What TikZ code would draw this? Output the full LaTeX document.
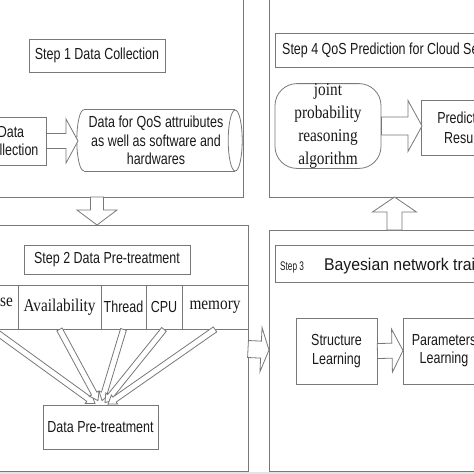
\documentclass[tikz,border=0pt]{standalone}
\usepackage{fontspec}
\setmainfont{Liberation Sans}
\newfontfamily\nsans{Liberation Sans}[FakeStretch=0.78]
\newfontfamily\wsans{Liberation Sans}[FakeStretch=0.93]
\newfontfamily\ssans{Liberation Sans}[FakeStretch=0.66]
\newfontfamily\nserif{Liberation Serif}[FakeStretch=0.85]
\usetikzlibrary{calc}
\definecolor{lc}{RGB}{120,120,120}
\definecolor{tc}{RGB}{25,25,25}
\newcommand{\barrow}[5]{%
  \draw[conn] ($(#1)!#3!90:(#2)$) -- ($(#2)!#5!(#1)!#3!-90:(#1)$) -- ($(#2)!#5!(#1)!#4!-90:(#1)$) -- (#2) -- ($(#2)!#5!(#1)!#4!90:(#1)$) -- ($(#2)!#5!(#1)!#3!90:(#1)$) -- ($(#1)!#3!-90:(#2)$) -- cycle;}
\begin{document}
\begin{tikzpicture}[x=1pt,y=-1pt,
  ln/.style={draw=lc, line width=0.8pt},
  bx/.style={ln, rectangle, inner sep=0pt, text=tc, align=center},
  sf/.style={font=\nsans\fontsize{16}{18.3}\selectfont},
  rm/.style={font=\nserif\fontsize{18}{23}\selectfont},
  conn/.style={ln, fill=white, line join=miter}]
\useasboundingbox (0,0) rectangle (474,474);
\clip (0,0) rectangle (474,474);
\fill[gray!22] (0,472) rectangle (474,474);
% panels
\node[bx, minimum width=248pt, minimum height=202pt] (p1) at (119,96) {};
\node[bx, minimum width=211pt, minimum height=202pt] (p4) at (374.5,96) {};
\node[bx, minimum width=253pt, minimum height=246pt] (p2) at (121.5,348) {};
\node[bx, minimum width=211pt, minimum height=241pt] (p3) at (374.5,350.5) {};
% step 1
\node[bx, sf, minimum width=136pt, minimum height=33pt] (s1) at (97,55.5) {Step 1 Data Collection};
\node[bx, sf, minimum width=70pt, minimum height=48pt] (dc) at (11,141) {Data\\Collection};
\node[sf, text=tc, align=center, inner sep=0pt, minimum width=158pt, minimum height=61pt] (cyl) at (156,140.5) {Data for QoS attruibutes\\as well as software and\\hardwares};
\draw[ln] ($(cyl.north west)+(7,0)$) -- (cyl.north east);
\draw[ln] ($(cyl.south west)+(7,0)$) -- (cyl.south east);
\draw[ln] (cyl.east) ellipse [x radius=7, y radius=30.5];
\draw[ln] ($(cyl.north west)+(7,0)$) arc[start angle=-90, end angle=-270, x radius=7, y radius=30.5];
\coordinate (c1) at (78,141);
\barrow{dc.east}{c1}{7.5pt}{22pt}{12pt}
% step 1 -> step 2
\coordinate (d1) at (97,197);
\coordinate (d2) at (97,225);
\barrow{d1}{d2}{6.5pt}{20pt}{15pt}
% step 2
\node[bx, sf, minimum width=166pt, minimum height=29pt] (s2) at (107,259.5) {Step 2 Data Pre-treatment};
\node[bx, rm, minimum width=69pt, minimum height=44pt, text depth=12pt] (resp) at (-16.5,307) {Response};
\node[bx, rm, minimum width=83pt, minimum height=44pt] (avail) at (59.5,307) {Availability};
\node[bx, sf, minimum width=45pt, minimum height=44pt] (thread) at (123.5,307) {Thread};
\node[bx, sf, minimum width=36pt, minimum height=44pt] (cpu) at (164,307) {CPU};
\node[bx, rm, minimum width=66pt, minimum height=44pt] (mem) at (215,307) {memory};
\node[bx, sf, minimum width=115pt, minimum height=44pt] (dp) at (100.5,427) {Data Pre-treatment};
\coordinate (r0) at (-8,329);
\coordinate (t1) at ($(dp.north)+(-5.5,-1)$);
\coordinate (t2) at ($(dp.north)+(-2.5,-4)$);
\coordinate (t3) at ($(dp.north)+(1.5,-4)$);
\coordinate (t4) at ($(dp.north)+(4.5,-2)$);
\coordinate (t5) at ($(dp.north)+(7.5,-0.5)$);
\barrow{r0}{t1}{3pt}{5.5pt}{8pt}
\barrow{avail.south}{t2}{3pt}{5.5pt}{8pt}
\barrow{thread.south}{t3}{3pt}{5.5pt}{8pt}
\barrow{cpu.south}{t4}{3pt}{5.5pt}{8pt}
\barrow{mem.south}{t5}{3pt}{5.5pt}{8pt}
% step 2 -> step 3
\coordinate (e1) at (248,349);
\coordinate (e2) at (269,350);
\barrow{e1}{e2}{8.5pt}{22pt}{8pt}
% step 3
\node[bx, minimum width=205pt, minimum height=37pt] (s3) at (377.5,263.5) {};
\node[anchor=base west, inner sep=0pt, text=tc] (s3t) at (280,270) {{\ssans\fontsize{12.5}{14}\selectfont Step 3}\hspace{20pt}{\wsans\fontsize{17}{20}\selectfont Bayesian network training}};
\node[bx, sf, minimum width=81pt, minimum height=66pt] (sl) at (336.5,351) {Structure\\Learning};
\node[bx, sf, minimum width=82pt, minimum height=66pt] (pl) at (444,351) {Parameters\\Learning};
\coordinate (f1) at (403,350.5);
\barrow{sl.east}{f1}{7.5pt}{21.5pt}{11pt}
% step 3 -> step 4
\coordinate (u1) at (394.5,230);
\coordinate (u2) at (394.5,197);
\barrow{u1}{u2}{7.5pt}{22pt}{15pt}
% step 4
\node[bx, minimum width=245pt, minimum height=34pt] (s4) at (397.5,50) {};
\node[anchor=west, inner sep=0pt, text=tc, sf] (s4t) at (282,50) {Step 4 QoS Prediction for Cloud Services};
\node[bx, rm, rounded corners=22pt, minimum width=106pt, minimum height=82pt] (jp) at (328,126) {joint\\probability\\reasoning\\algorithm};
\node[bx, font=\nsans\fontsize{16}{20}\selectfont, minimum width=88pt, minimum height=55pt] (pr) at (465,127.5) {Prediction\\Results};
\coordinate (g1) at (422,126);
\barrow{jp.east}{g1}{9pt}{25.5pt}{14pt}
\end{tikzpicture}
\end{document}
